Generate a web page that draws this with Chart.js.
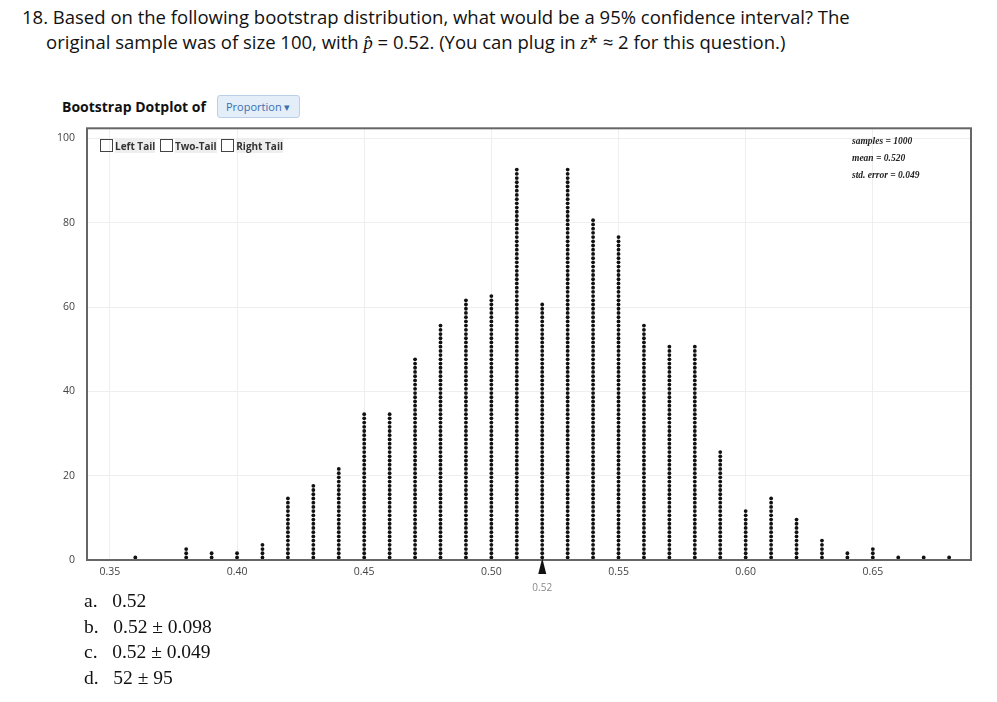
<!DOCTYPE html>
<html><head><meta charset="utf-8">
<script src="https://cdn.jsdelivr.net/npm/chart.js@4.4.1/dist/chart.umd.min.js"></script>
<style>
body{margin:0;background:#fff;width:997px;height:702px;position:relative;overflow:hidden;font-family:"Open Sans","Noto Sans",sans-serif}
.q{position:absolute;left:22px;top:4px;font-size:18.5px;line-height:25px;color:#111}
.hd{position:absolute;left:62px;top:97px;font-size:14px;font-weight:bold;color:#111}
.btn{position:absolute;left:217px;top:95px;font-size:11px;color:#3a6fb0;background:#e3eef9;border:1px solid #b9d0e8;border-radius:3px;padding:3px 8px}
.tails{position:absolute;left:98px;top:139px;font-size:10px;font-weight:bold;color:#333}
.tails span.b{display:inline-block;width:11px;height:11px;border:1px solid #444;vertical-align:-2px;margin-right:2px;margin-left:2px}
.tails span.t{background:#eee}
.stats{position:absolute;left:852px;top:133px;font-family:"Liberation Serif",serif;font-style:italic;font-weight:bold;font-size:9.5px;line-height:17px;color:#222}
.ans{position:absolute;left:84px;top:588px;font-family:"Liberation Serif",serif;font-size:19.5px;line-height:25.5px;color:#111}
#wrap{position:absolute;left:45px;top:110px;width:930px;height:482px}
</style></head><body>
<div class="q">18. Based on the following bootstrap distribution, what would be a 95% confidence interval? The<br>&nbsp;&nbsp;&nbsp;&nbsp;&nbsp;original sample was of size 100, with <i style="font-family:'Liberation Serif',serif">p̂</i> = 0.52. (You can plug in <i style="font-family:'Liberation Serif',serif">z</i>* ≈ 2 for this question.)</div>
<div class="hd">Bootstrap Dotplot of</div>
<div class="btn">Proportion ▾</div>
<div id="wrap"><canvas id="c"></canvas></div>
<div class="tails"><span class="b"></span><span class="t">Left Tail</span> <span class="b"></span><span class="t">Two-Tail</span> <span class="b"></span><span class="t">Right Tail</span></div>
<div class="stats">samples = 1000<br>mean = 0.520<br>std. error = 0.049</div>
<div class="ans">a.&nbsp;&nbsp;&nbsp;0.52<br>b.&nbsp;&nbsp;&nbsp;0.52 ± 0.098<br>c.&nbsp;&nbsp;&nbsp;0.52 ± 0.049<br>d.&nbsp;&nbsp;&nbsp;52 ± 95</div>
<script>
const proportions=[0.36,0.38,0.39,0.40,0.41,0.42,0.43,0.44,0.45,0.46,0.47,0.48,0.49,0.50,0.51,0.52,0.53,0.54,0.55,0.56,0.57,0.58,0.59,0.60,0.61,0.62,0.63,0.64,0.65,0.66,0.67,0.68];
const counts=[1,3,2,2,4,15,18,22,35,35,48,56,62,63,93,61,93,81,77,56,51,51,26,12,15,10,5,2,3,1,1,1];
const xTicks=[0.35,0.40,0.45,0.50,0.55,0.60,0.65];
const yTicks=[0,20,40,60,80,100];
const sampleMean=0.52;
const pts=[];
proportions.forEach((p,i)=>{for(let k=1;k<=counts[i];k++)pts.push({x:p,y:k-0.4});});
const frame={id:'frame',afterDraw(ch){const a=ch.chartArea,c=ch.ctx;c.save();c.strokeStyle='#666';c.lineWidth=2;c.strokeRect(a.left,a.top,a.right-a.left,a.bottom-a.top);
const x=ch.scales.x.getPixelForValue(sampleMean);c.fillStyle='#111';c.beginPath();c.moveTo(x,a.bottom-2);c.lineTo(x-4,a.bottom+14);c.lineTo(x+4,a.bottom+14);c.fill();
c.font='10px "Open Sans"';c.fillStyle='#888';c.textAlign='center';c.fillText(sampleMean.toFixed(2),x,a.bottom+31);c.restore();}};
new Chart(document.getElementById('c'),{type:'scatter',data:{datasets:[{data:pts,pointRadius:1.9,pointBackgroundColor:'#111',pointBorderWidth:0}]},
options:{responsive:true,maintainAspectRatio:false,animation:false,layout:{padding:{top:17,right:0}},plugins:{legend:{display:false},tooltip:{enabled:false}},
scales:{x:{type:'linear',min:0.341,max:0.6886,afterBuildTicks(s){s.ticks=xTicks.map(v=>({value:v}));},afterFit(s){s.height=32;},
ticks:{callback:v=>v.toFixed(2),color:'#444',font:{size:10.5,family:'Open Sans'},padding:6},grid:{color:'#eee',drawTicks:false},border:{display:false}},
y:{min:0,max:102.4,afterBuildTicks(s){s.ticks=yTicks.map(v=>({value:v}));},afterFit(s){s.width=42;},
ticks:{color:'#444',font:{size:10.5,family:'Open Sans'},padding:12},grid:{color:'#eee',drawTicks:false},border:{display:false}}}},plugins:[frame]});
</script></body></html>
